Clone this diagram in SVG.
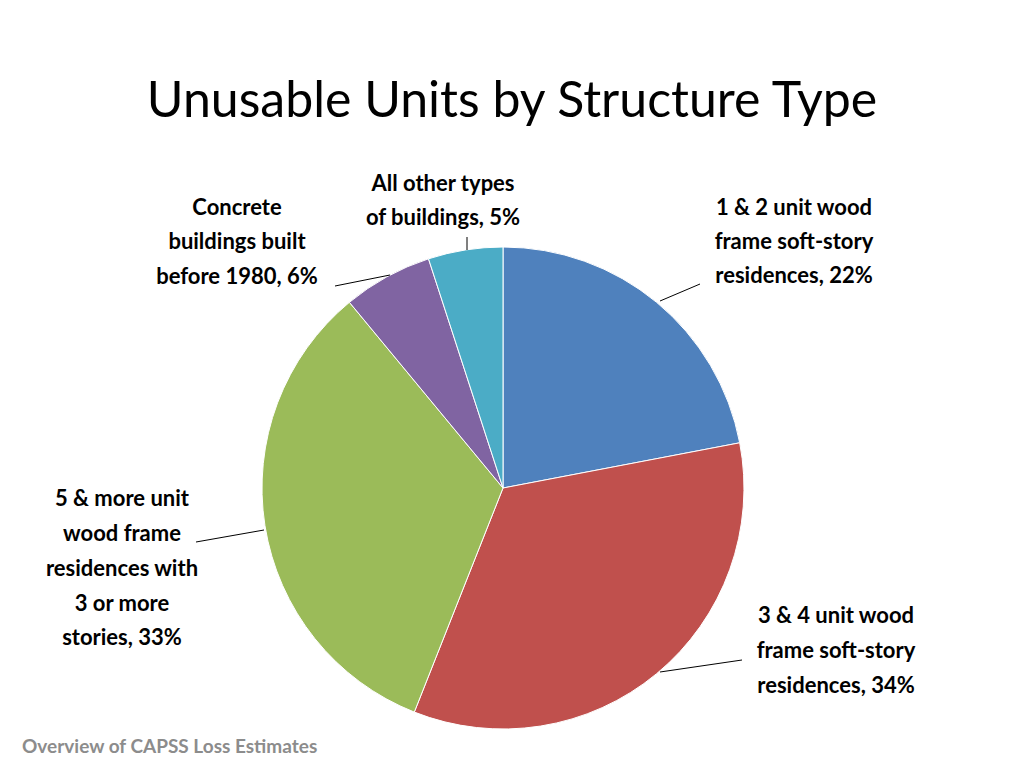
<svg xmlns="http://www.w3.org/2000/svg" width="1024" height="768" viewBox="0 0 1024 768">
<style>
.l{font-family:Lato,"Open Sans",sans-serif;font-weight:bold;font-size:22px;fill:#000;text-anchor:middle}
.s{stroke:#fff;stroke-width:1}
.c line{stroke:#000;stroke-width:1}
</style>
<rect width="1024" height="768" fill="#fff"/>
<text x="512" y="117" text-anchor="middle" font-family="Lato,'Open Sans',sans-serif" font-size="50">Unusable Units by Structure Type</text>
<g id="blue"><path class="s" fill="#4F81BD" d="M503,488 L503,247 A241,241 0 0 1 739.7,442.8 Z"/></g>
<g id="red"><path class="s" fill="#C0504D" d="M503,488 L739.7,442.8 A241,241 0 0 1 414.3,712.1 Z"/></g>
<g id="green"><path class="s" fill="#9BBB59" d="M503,488 L414.3,712.1 A241,241 0 0 1 349.4,302.3 Z"/></g>
<g id="purple"><path class="s" fill="#8064A2" d="M503,488 L349.4,302.3 A241,241 0 0 1 428.5,258.8 Z"/></g>
<g id="teal"><path class="s" fill="#4BACC6" d="M503,488 L428.5,258.8 A241,241 0 0 1 503,247 Z"/></g>
<g class="c">
<line x1="660" y1="301" x2="700" y2="284"/>
<line x1="660" y1="672" x2="742" y2="660"/>
<line x1="264" y1="530" x2="196" y2="542"/>
<line x1="390" y1="275" x2="335" y2="286"/>
<line x1="467" y1="250" x2="467" y2="237"/>
</g>
<g id="lbl">
<text class="l" x="794" y="215">1 &amp; 2 unit wood</text>
<text class="l" x="794" y="249">frame soft-story</text>
<text class="l" x="794" y="283">residences, 22%</text>
<text class="l" x="836" y="623">3 &amp; 4 unit wood</text>
<text class="l" x="836" y="658">frame soft-story</text>
<text class="l" x="836" y="693">residences, 34%</text>
<text class="l" x="122" y="506">5 &amp; more unit</text>
<text class="l" x="122" y="541">wood frame</text>
<text class="l" x="122" y="576">residences with</text>
<text class="l" x="122" y="611">3 or more</text>
<text class="l" x="122" y="645">stories, 33%</text>
<text class="l" x="237" y="215">Concrete</text>
<text class="l" x="237" y="249">buildings built</text>
<text class="l" x="237" y="284">before 1980, 6%</text>
<text class="l" x="443" y="191">All other types</text>
<text class="l" x="443" y="225">of buildings, 5%</text>
</g>
<text x="22" y="753" font-family="Lato,'Open Sans',sans-serif" font-weight="bold" font-size="19" fill="#8C8C8C">Overview of CAPSS Loss Estimates</text>
</svg>
